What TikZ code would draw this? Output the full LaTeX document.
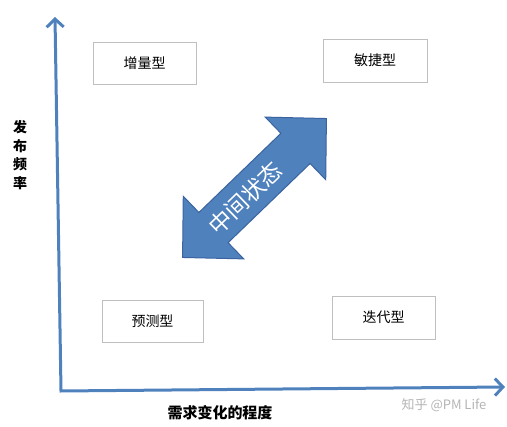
\documentclass[tikz,border=0pt]{standalone}
\usepackage{fontspec}
\setmainfont{Noto Sans CJK SC}
\usetikzlibrary{arrows.meta}
\definecolor{axisblue}{HTML}{4F81BD}
\definecolor{arrowfill}{HTML}{4F81BD}
\definecolor{arrowline}{HTML}{3A63A0}
\definecolor{boxgray}{HTML}{BFBFBF}
\definecolor{markgray}{HTML}{B4B4B4}
\tikzset{
  typebox/.style={draw=boxgray, line width=0.9pt, minimum width=103pt, minimum height=42pt, inner sep=0pt, font=\fontsize{14pt}{16pt}\selectfont},
  axisline/.style={draw=axisblue, line width=3pt, {Straight Barb[length=8pt,width=17pt,line width=3pt]}-{Straight Barb[length=8pt,width=17pt,line width=3pt]}},
  axislabel/.style={font=\bfseries\fontsize{15pt}{18pt}\selectfont, inner sep=0pt},
}
\begin{document}
\begin{tikzpicture}[x=1pt,y=-1pt]
\useasboundingbox (0,0) rectangle (507,427);
% axes
\coordinate (ytop) at (55,17);
\coordinate (origin) at (61,391);
\coordinate (xend) at (505,387);
\draw[axisline] (ytop) -- (origin) -- (xend);
% boxes
\node[typebox] (incr) at (144.5,63.5) {增量型};
\node[typebox, minimum height=43pt, minimum width=104pt] (agile) at (375,60.5) {敏捷型};
\node[typebox, minimum width=101pt] (pred) at (152.5,321) {预测型};
\node[typebox, minimum height=43pt] (iter) at (383.5,317.5) {迭代型};
% double arrow
\begin{scope}[shift={(254.5,188)}, rotate=44]
  \filldraw[fill=arrowfill, draw=arrowline, line width=1pt, line join=miter]
    (100,0) -- (57,43.5) -- (57,21) -- (-57,21) -- (-57,43.5) -- (-100,0)
    -- (-57,-43.5) -- (-57,-21) -- (57,-21) -- (57,-43.5) -- cycle;
  \node[text=white, rotate=44, font=\fontsize{23pt}{26pt}\selectfont, inner sep=0pt] (mid) at (-14,1) {中间状态};
\end{scope}
% axis labels
\node[axislabel, align=center, font=\bfseries\fontsize{14pt}{18.5pt}\selectfont] (ylab) at (20,155) {发\\布\\频\\率};
\node[axislabel] (xlab) at (220,413) {需求变化的程度};
\node[text=markgray, font=\fontsize{13pt}{15pt}\selectfont, inner sep=0pt] (mark) at (444,405) {知乎 @PM Life};
\end{tikzpicture}
\end{document}
